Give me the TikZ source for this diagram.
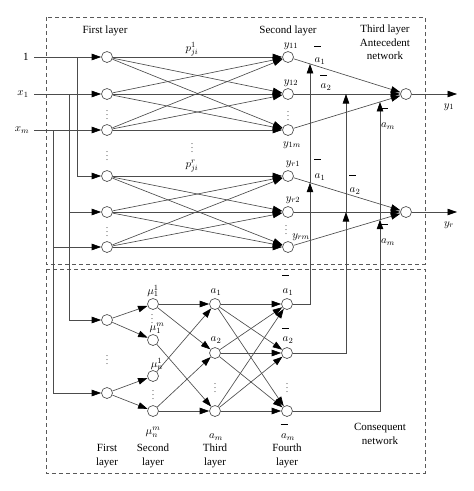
\documentclass[tikz,border=0pt]{standalone}
\usepackage{fontspec}
\setmainfont{Liberation Serif}
\usetikzlibrary{arrows.meta,calc}
\newcommand{\barA}[2]{\makebox[0pt][l]{\hspace{-0.5pt}\raisebox{#2}{\rule{7pt}{0.5pt}}}$a_{#1}$}
\begin{document}
\begin{tikzpicture}[x=1pt,y=-1pt,
  neu/.style={circle,draw=black!70,fill=white,minimum size=11pt,inner sep=0pt,line width=0.65pt},
  wire/.style={draw=black!70,line width=0.65pt},
  arr/.style={wire,-{Triangle[length=9.5pt,width=6.5pt,black]}},
  lab/.style={inner sep=0pt,font=\fontsize{11}{13.5}\selectfont,align=center},
  barlab/.style={inner sep=0pt,anchor=base,font=\fontsize{11}{12}\selectfont},
  dots/.style={inner sep=0pt,font=\fontsize{8}{9}\selectfont},
  box/.style={draw=black!65,line width=0.65pt,dash pattern=on 4pt off 3pt}]
\useasboundingbox (0,0) rectangle (474,491);
% dashed frames
\draw[box] (46,17) rectangle (425,264);
\draw[box] (46,269) rectangle (425,473);
% top network nodes
\foreach \n/\y in {a/57,b/94,c/130,d/176,e/212,f/247}{
  \node[neu] (L\n) at (107,\y) {};
  \node[neu] (M\n) at (288,\y) {};
}
\node[neu] (T1) at (406,94) {};
\node[neu] (T2) at (406,212) {};
% bottom network nodes
\node[neu] (F1) at (107,320) {};
\node[neu] (F2) at (107,393) {};
\node[neu] (S1) at (153,304) {};
\node[neu] (S2) at (153,340) {};
\node[neu] (S3) at (153,376) {};
\node[neu] (S4) at (153,411) {};
\node[neu] (Q1) at (215,304) {};
\node[neu] (Q2) at (215,353) {};
\node[neu] (Qm) at (215,411) {};
\node[neu] (A1) at (287,304) {};
\node[neu] (A2) at (287,353) {};
\node[neu] (Am) at (287,411) {};
% inputs
\node[lab] (i1) at (26,57) {1};
\node[lab] (ix1) at (23,94) {$x_1$};
\node[lab] (ixm) at (22,130) {$x_m$};
\coordinate (s1) at (34,57);
\coordinate (sx1) at (34,94);
\coordinate (sxm) at (34,130);
\coordinate (b1) at (77,57);
\coordinate (b2) at (69,94);
\coordinate (b3) at (53,130);
\draw[arr] (s1) -- (La);
\draw[arr] (sx1) -- (Lb);
\draw[arr] (sxm) -- (Lc);
\draw[arr] (b1) |- (Ld);
\draw[arr] (b2) |- (Le);
\draw[arr] (b2) |- (F1);
\draw[arr] (b3) |- (Lf);
\draw[arr] (b3) |- (F2);
% first to second layer
\foreach \i in {a,b,c}{\foreach \j in {a,b,c}{\draw[arr] (L\i) -- (M\j);}}
\foreach \i in {d,e,f}{\foreach \j in {d,e,f}{\draw[arr] (L\i) -- (M\j);}}
\foreach \j in {a,b,c}{\draw[arr] (M\j) -- (T1);}
\foreach \j in {d,e,f}{\draw[arr] (M\j) -- (T2);}
\coordinate (o1) at (457,94);
\coordinate (o2) at (457,212);
\draw[arr] (T1) -- (o1);
\draw[arr] (T2) -- (o2);
% bottom edges
\draw[arr] (F1) -- (S1);
\draw[arr] (F1) -- (S2);
\draw[arr] (F2) -- (S3);
\draw[arr] (F2) -- (S4);
\draw[arr] (S1) -- (Q1);
\draw[arr] (S1) -- (Q2);
\draw[arr] (S2) -- (Qm);
\draw[arr] (S3) -- (Q1);
\draw[arr] (S4) -- (Q2);
\draw[arr] (S4) -- (Qm);
\foreach \i in {1,2,m}{\foreach \j in {1,2,m}{\draw[arr] (Q\i) -- (A\j);}}
% feedback verticals
\coordinate (c1t) at ($(Ma)!0.1864!(T1)$);
\coordinate (c2t) at ($(Mb)!0.4915!(T1)$);
\coordinate (c3t) at ($(Mc)!0.7797!(T1)$);
\coordinate (c1b) at ($(Md)!0.1864!(T2)$);
\coordinate (c2b) at ($(Me)!0.4915!(T2)$);
\coordinate (c3b) at ($(Mf)!0.7797!(T2)$);
\draw[arr] (A1) -| (c1b);
\draw[arr] (c1b) -- (c1t);
\draw[arr] (A2) -| (c2b);
\draw[arr] (c2b) -- (c2t);
\draw[arr] (Am) -| (c3b);
\draw[arr] (c3b) -- (c3t);
% outputs labels
\node[lab] (ly1) at (449,107) {$y_1$};
\node[lab] (lyr) at (449,225) {$y_r$};
% top labels
\node[lab] (tfl) at (105,31) {First layer};
\node[lab] (tsl) at (288,31) {Second layer};
\node[lab,anchor=north] (ttl) at (385,25) {Third layer\\Antecedent\\network};
\node[lab] (p1) at (192,49) {$p_{ji}^{1}$};
\node[lab] (pr) at (192,166) {$p_{ji}^{r}$};
\node[dots] (dp) at (192,145) {$\vdots$};
\node[dots] (d1) at (107,112) {$\vdots$};
\node[dots] (d2) at (107,153) {$\vdots$};
\node[dots] (d3) at (107,229) {$\vdots$};
\node[dots] (d4) at (288,113) {$\vdots$};
\node[dots] (d5) at (286,227) {$\vdots$};
\node[lab] (ly11) at (291,46) {$y_{11}$};
\node[lab] (ly12) at (291,83) {$y_{12}$};
\node[lab] (ly1m) at (292,145) {$y_{1m}$};
\node[lab] (lyr1) at (293,164) {$y_{r1}$};
\node[lab] (lyr2) at (293,200) {$y_{r2}$};
\node[lab] (lyrm) at (301,237) {$y_{rm}$};
\node[barlab] (ab1) at (320,62.5) {\barA{1}{16pt}};
\node[barlab] (ab2) at (326,88.5) {\barA{2}{13pt}};
\node[barlab] (abm) at (388,127.5) {\barA{m}{19pt}};
\node[barlab] (ab4) at (320,178.5) {\barA{1}{19pt}};
\node[barlab] (ab5) at (355,192.5) {\barA{2}{17pt}};
\node[barlab] (ab6) at (388,243.5) {\barA{m}{19pt}};
% bottom labels
\node[lab] (m11) at (153,291) {$\mu_1^1$};
\node[dots] (d6) at (152,316) {$\vdots$};
\node[lab] (m1m) at (157,328) {$\mu_1^m$};
\node[lab] (mn1) at (157,364) {$\mu_n^1$};
\node[dots] (d7) at (153,392) {$\vdots$};
\node[lab] (mnm) at (153,432) {$\mu_n^m$};
\node[dots] (d8) at (107,357) {$\vdots$};
\node[lab] (qa1) at (216,292) {$a_1$};
\node[lab] (qa2) at (216,340) {$a_2$};
\node[dots] (d9) at (215,385) {$\vdots$};
\node[lab] (qam) at (216,437) {$a_m$};
\node[barlab] (ab7) at (288,293.5) {\barA{1}{18pt}};
\node[barlab] (ab8) at (288,341.5) {\barA{2}{13pt}};
\node[dots] (d10) at (287,385) {$\vdots$};
\node[barlab] (ab9) at (288,438.5) {\barA{m}{14pt}};
\node[lab] (bfl) at (107,456) {First\\layer};
\node[lab] (bsl) at (153,456) {Second\\layer};
\node[lab] (btl) at (215,456) {Third\\layer};
\node[lab] (bql) at (287,456) {Fourth\\layer};
\node[lab] (bcn) at (380,434) {Consequent\\network};
\end{tikzpicture}
\end{document}
